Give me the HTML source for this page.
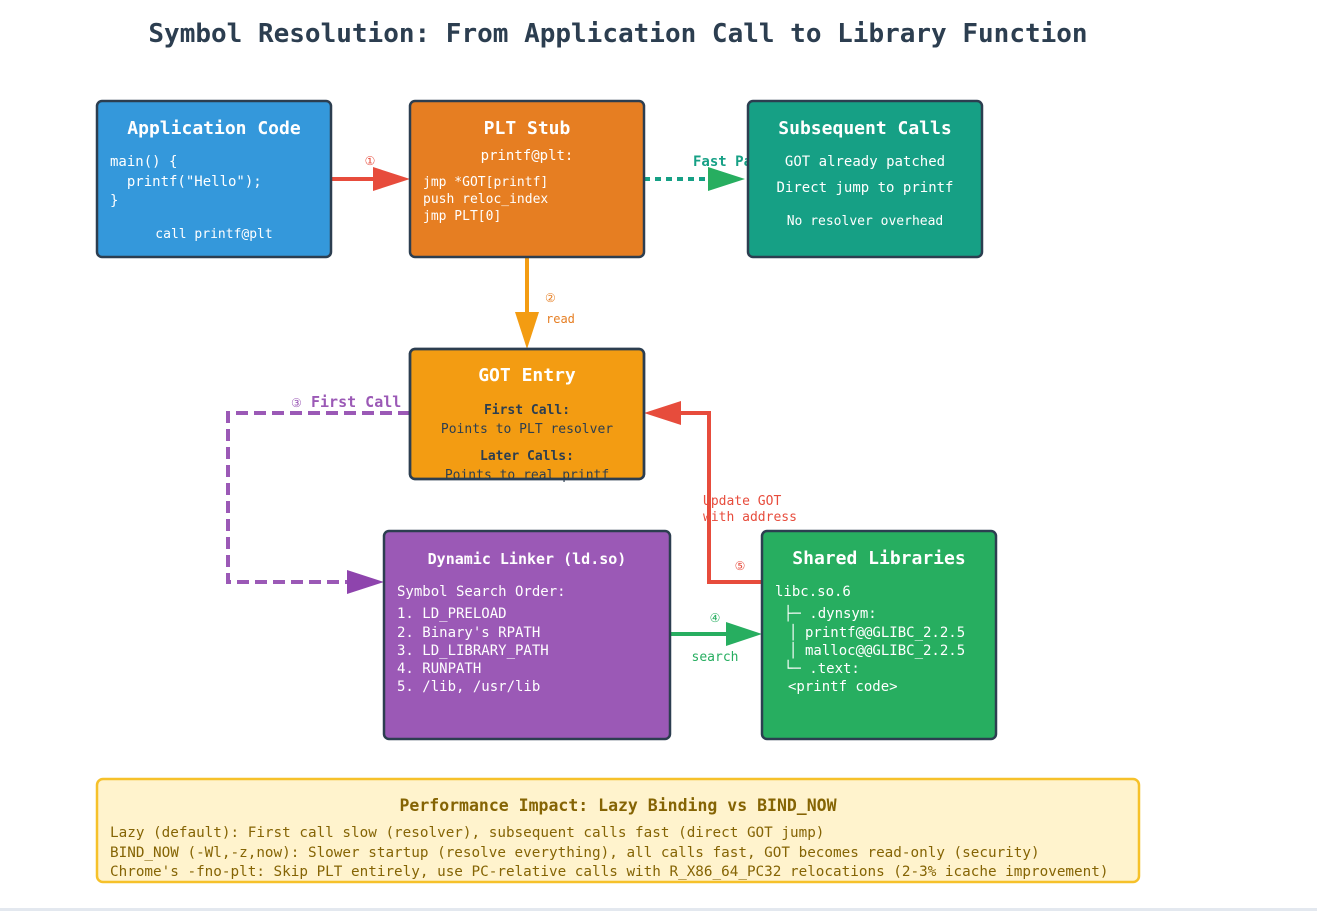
<!DOCTYPE html>
<html><head><meta charset="utf-8"><style>
html,body{margin:0;padding:0;background:#fff;}
svg{display:block;font-family:"DejaVu Sans Mono","Liberation Mono",monospace;}
</style></head><body>
<svg width="1317" height="911" viewBox="0 0 1317 911" xmlns="http://www.w3.org/2000/svg">
<text x="618" y="42" text-anchor="middle" font-size="26" font-weight="bold" fill="#2c3e50">Symbol Resolution: From Application Call to Library Function</text>

<!-- connectors -->
<line x1="331" y1="179" x2="375" y2="179" stroke="#e74c3c" stroke-width="4"/>
<polygon points="373,167 410,179 373,191" fill="#e74c3c"/>
<text x="370" y="165" font-size="12" fill="#e74c3c" text-anchor="middle">①</text>

<text x="693" y="166" font-size="14" font-weight="bold" fill="#16a085">Fast Path</text>
<line x1="644" y1="179" x2="710" y2="179" stroke="#16a085" stroke-width="4" stroke-dasharray="6,5"/>
<polygon points="708,167 745,179 708,191" fill="#27ae60"/>

<line x1="527" y1="257" x2="527" y2="315" stroke="#f39c12" stroke-width="4"/>
<polygon points="515,312 527,349 539,312" fill="#f39c12"/>
<text x="545" y="302" font-size="12" fill="#e67e22">②</text>
<text x="546" y="323" font-size="12" fill="#e67e22">read</text>

<polyline points="410,413 228,413 228,582 350,582" fill="none" stroke="#9b59b6" stroke-width="4" stroke-dasharray="12,6"/>
<polygon points="347,570 384,582 347,594" fill="#8e44ad"/>
<text x="291" y="407" font-size="12" fill="#9b59b6">③</text>
<text x="311" y="407" font-size="15" font-weight="bold" fill="#9b59b6">First Call</text>

<polyline points="762,582 709,582 709,413 680,413" fill="none" stroke="#e74c3c" stroke-width="4"/>
<polygon points="681,401 644,413 681,425" fill="#e74c3c"/>
<text x="703" y="505" font-size="13" fill="#e74c3c">Update GOT</text>
<text x="703" y="521" font-size="13" fill="#e74c3c">with address</text>
<text x="740" y="570" font-size="12" fill="#e74c3c" text-anchor="middle">⑤</text>

<line x1="670" y1="634" x2="728" y2="634" stroke="#27ae60" stroke-width="4"/>
<polygon points="726,622 762,634 726,646" fill="#27ae60"/>
<text x="715" y="622" font-size="12" fill="#27ae60" text-anchor="middle">④</text>
<text x="715" y="661" font-size="13" fill="#27ae60" text-anchor="middle">search</text>

<!-- boxes -->
<rect x="97" y="101" width="234" height="156" rx="5" fill="#3498db" stroke="#2c3e50" stroke-width="2.5"/>
<text x="214" y="134" text-anchor="middle" font-size="18" font-weight="bold" fill="#fff">Application Code</text>
<g font-size="14" fill="#fff">
<text x="110" y="166">main() {</text>
<text x="110" y="186">&#160;&#160;printf("Hello");</text>
<text x="110" y="205">}</text>
<text x="214" y="238" text-anchor="middle" font-size="13">call printf@plt</text>
</g>

<rect x="410" y="101" width="234" height="156" rx="5" fill="#e67e22" stroke="#2c3e50" stroke-width="2.5"/>
<text x="527" y="134" text-anchor="middle" font-size="18" font-weight="bold" fill="#fff">PLT Stub</text>
<g font-size="13" fill="#fff">
<text x="527" y="160" text-anchor="middle" font-size="14">printf@plt:</text>
<text x="423" y="186">jmp *GOT[printf]</text>
<text x="423" y="203">push reloc_index</text>
<text x="423" y="220">jmp PLT[0]</text>
</g>

<rect x="748" y="101" width="234" height="156" rx="5" fill="#16a085" stroke="#2c3e50" stroke-width="2.5"/>
<text x="865" y="134" text-anchor="middle" font-size="18" font-weight="bold" fill="#fff">Subsequent Calls</text>
<g font-size="14" fill="#fff" text-anchor="middle">
<text x="865" y="166">GOT already patched</text>
<text x="865" y="192">Direct jump to printf</text>
<text x="865" y="225" font-size="13">No resolver overhead</text>
</g>

<rect x="410" y="349" width="234" height="130" rx="5" fill="#f39c12" stroke="#2c3e50" stroke-width="2.5"/>
<text x="527" y="381" text-anchor="middle" font-size="18" font-weight="bold" fill="#fff">GOT Entry</text>
<g font-size="13" fill="#2c3e50" text-anchor="middle">
<text x="527" y="414" font-weight="bold">First Call:</text>
<text x="527" y="433">Points to PLT resolver</text>
<text x="527" y="460" font-weight="bold">Later Calls:</text>
<text x="527" y="479">Points to real printf</text>
</g>
<rect x="410" y="349" width="234" height="130" rx="5" fill="none" stroke="#2c3e50" stroke-width="2.5"/>

<rect x="384" y="531" width="286" height="208" rx="5" fill="#9b59b6" stroke="#2c3e50" stroke-width="2.5"/>
<text x="527" y="564" text-anchor="middle" font-size="15" font-weight="bold" fill="#fff">Dynamic Linker (ld.so)</text>
<g font-size="14" fill="#fff">
<text x="397" y="596">Symbol Search Order:</text>
<text x="397" y="618">1. LD_PRELOAD</text>
<text x="397" y="637">2. Binary's RPATH</text>
<text x="397" y="655">3. LD_LIBRARY_PATH</text>
<text x="397" y="673">4. RUNPATH</text>
<text x="397" y="691">5. /lib, /usr/lib</text>
</g>

<rect x="762" y="531" width="234" height="208" rx="5" fill="#27ae60" stroke="#2c3e50" stroke-width="2.5"/>
<text x="879" y="564" text-anchor="middle" font-size="18" font-weight="bold" fill="#fff">Shared Libraries</text>
<g font-size="14" fill="#fff">
<text x="775" y="596">libc.so.6</text>
<text x="784" y="618">├─ .dynsym:</text>
<text x="789" y="637">│</text><text x="805" y="637">printf@@GLIBC_2.2.5</text>
<text x="789" y="655">│</text><text x="805" y="655">malloc@@GLIBC_2.2.5</text>
<text x="784" y="673">└─ .text:</text>
<text x="788" y="691">&lt;printf code&gt;</text>
</g>

<rect x="97" y="779" width="1042" height="103" rx="6" fill="#fff3cd" stroke="#f6c12a" stroke-width="2.5"/>
<text x="618" y="811" text-anchor="middle" font-size="16.5" font-weight="bold" fill="#856404">Performance Impact: Lazy Binding vs BIND_NOW</text>
<g font-size="14.3" fill="#856404">
<text x="110" y="837">Lazy (default): First call slow (resolver), subsequent calls fast (direct GOT jump)</text>
<text x="110" y="857">BIND_NOW (-Wl,-z,now): Slower startup (resolve everything), all calls fast, GOT becomes read-only (security)</text>
<text x="110" y="876">Chrome's -fno-plt: Skip PLT entirely, use PC-relative calls with R_X86_64_PC32 relocations (2-3% icache improvement)</text>
</g>
<rect x="0" y="908" width="1317" height="3" fill="#e3e8ef"/>
</svg>
</body></html>
